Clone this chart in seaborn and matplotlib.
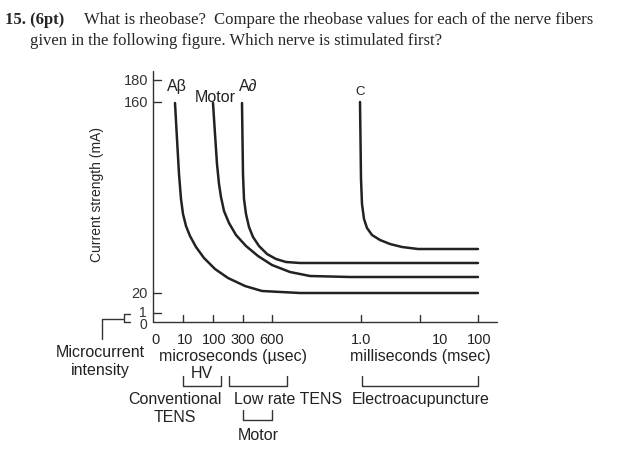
import matplotlib
matplotlib.use("Agg")
import matplotlib.pyplot as plt
import seaborn as sns

sns.set_style("white")
plt.rcParams['font.family'] = ['Liberation Sans', 'DejaVu Sans']

# Curves (pixel-like coordinates, y downwards)
abeta_x = [175,177,179,181,183,186,190,196,204,215,228,245,262,300,400,478]
abeta_y = [104,140,175,200,215,227,237,248,259,270,279,287,292,294,294,294]
motor_x = [213,215,217,219,221,224,229,236,246,258,272,290,310,350,478]
motor_y = [104,135,165,185,198,212,224,236,247,257,266,273,277,278,278]
adelta_x = [242,242.5,243,244,246,249,253,259,267,276,286,300,350,478]
adelta_y = [104,140,175,200,215,228,238,247,255,260,263,264,264,264]
c_x = [360,360.5,361,362,364,367,372,380,390,402,418,478]
c_y = [103,140,180,205,220,229,236,241,245,248,250,250]

yticks = ["180", "160", "20"]
ytick_pos = [81, 103, 294]
xticks = ["0", "10", "100", "300", "600", "1.0", "10", "100"]
xtick_pos = [155, 185, 214, 243, 272, 361, 440, 479]
xtick_marks = [183, 213, 243, 272, 361, 420, 478]

fig = plt.figure(figsize=(6.29, 4.60), dpi=100)
ax = fig.add_axes([0, 0, 1, 1])
ax.set_xlim(0, 629); ax.set_ylim(460, 0); ax.axis("off")

for xs, ys in [(abeta_x, abeta_y), (motor_x, motor_y), (adelta_x, adelta_y), (c_x, c_y)]:
    sns.lineplot(x=xs, y=ys, sort=False, color="#222222", lw=1.8, ax=ax)

k = dict(color="#333333", lw=1)
ax.plot([153, 153], [72, 323], **k)
ax.plot([153, 497], [323, 323], **k)
for t, p in zip(yticks, ytick_pos):
    ax.plot([153, 161], [p, p], **k)
    ax.text(148, p, t, ha="right", va="center", fontsize=10.5, color="#333333")
for p in xtick_marks:
    ax.plot([p, p], [323, 316], **k)
for t, p in zip(xticks, xtick_pos):
    ax.text(p, 340, t, ha="center", va="center", fontsize=10.5, color="#222222")
ax.plot([153, 161], [314, 314], **k)
ax.text(143, 313, "1", ha="center", va="center", fontsize=10, color="#333333")
ax.text(143, 325, "0", ha="center", va="center", fontsize=10, color="#333333")
ax.plot([102, 102, 123], [340, 320, 320], **k)
ax.plot([130, 124, 124, 130], [315, 315, 323, 323], **k)

ax.text(97, 195, "Current strength (mA)", rotation=90, ha="center", va="center", fontsize=10)
ax.text(177, 87, "Aβ", ha="center", va="center", fontsize=11.5, color="#222222")
ax.text(215, 97, "Motor", ha="center", va="center", fontsize=11.5, color="#222222")
ax.text(248, 86, "A∂", ha="center", va="center", fontsize=11.5, color="#222222")
ax.text(360, 92, "C", ha="center", va="center", fontsize=9.5, color="#222222")

ax.text(233, 357, "microseconds (µsec)", ha="center", va="center", fontsize=11.5, color="#222222")
ax.text(420, 357, "milliseconds (msec)", ha="center", va="center", fontsize=11.5, color="#222222")
ax.text(100, 353, "Microcurrent", ha="center", va="center", fontsize=11.5, color="#222222")
ax.text(100, 371, "intensity", ha="center", va="center", fontsize=11.5, color="#222222")
ax.text(202, 374, "HV", ha="center", va="center", fontsize=11.5, color="#222222")
for a, b, t, bt in [(183, 221, 377, 387), (229, 287, 377, 387), (362, 478, 377, 387), (243, 272, 411, 421)]:
    ax.plot([a, a, b, b], [t, bt, bt, t], **k)
ax.text(175, 400, "Conventional", ha="center", va="center", fontsize=11.5, color="#222222")
ax.text(288, 400, "Low rate TENS", ha="center", va="center", fontsize=11.5, color="#222222")
ax.text(421, 400, "Electroacupuncture", ha="center", va="center", fontsize=11.5, color="#222222")
ax.text(175, 418, "TENS", ha="center", va="center", fontsize=11.5, color="#222222")
ax.text(258, 436, "Motor", ha="center", va="center", fontsize=11.5, color="#222222")

ax.text(5, 20, "15. (6pt)", ha="left", va="center", fontsize=12, fontweight="bold", family="Liberation Serif")
ax.text(84, 20, "What is rheobase?  Compare the rheobase values for each of the nerve fibers",
        ha="left", va="center", fontsize=12, family="Liberation Serif")
ax.text(30, 41, "given in the following figure. Which nerve is stimulated first?",
        ha="left", va="center", fontsize=12, family="Liberation Serif")

fig.savefig("out.png", dpi=100)
